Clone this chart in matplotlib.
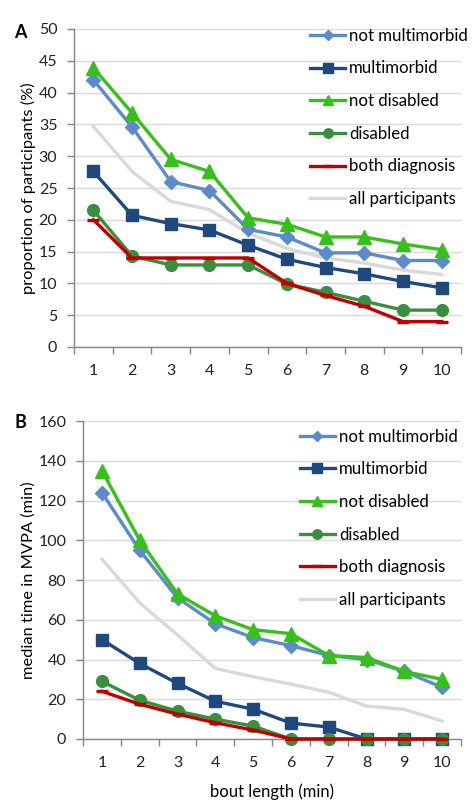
import numpy as np
import matplotlib
matplotlib.use("Agg")
import matplotlib.pyplot as plt

plt.rcParams['font.family'] = ['Lato', 'DejaVu Sans']

bouts = [1, 2, 3, 4, 5, 6, 7, 8, 9, 10]
labels = ["not multimorbid", "multimorbid", "not disabled", "disabled",
          "both diagnosis", "all participants"]

# panel A: proportion of participants (%)
a_not_multi = [42.0, 34.6, 26.0, 24.6, 18.5, 17.3, 14.8, 14.8, 13.6, 13.6]
a_multi = [27.6, 20.7, 19.4, 18.4, 16.0, 13.8, 12.5, 11.5, 10.3, 9.3]
a_not_dis = [43.9, 36.8, 29.5, 27.6, 20.3, 19.3, 17.3, 17.3, 16.2, 15.3]
a_dis = [21.5, 14.3, 12.9, 12.9, 12.9, 9.9, 8.6, 7.2, 5.8, 5.8]
a_both = [20.0, 14.0, 14.0, 14.0, 14.0, 10.0, 8.1, 6.4, 4.0, 4.0]
a_all = [34.7, 27.6, 22.9, 21.6, 17.9, 15.5, 14.0, 13.2, 12.1, 11.4]

# panel B: median time in MVPA (min)
b_not_multi = [124, 95, 71, 58, 51, 47, 42, 40, 34, 26]
b_multi = [50, 38, 28, 19, 15, 8, 6, 0, 0, 0]
b_not_dis = [135, 100, 73, 62, 55, 53, 42, 41, 34, 30]
b_dis = [29, 19.5, 14, 10, 6.5, 0, 0, 0, 0, 0]
b_both = [24, 17.5, 12.5, 8.2, 4.5, 0, 0, 0, 0, 0]
b_all = [90.5, 68.5, 52.3, 35.5, 31.3, 27.6, 23.5, 16.6, 14.9, 9.0]

styles = [
    dict(color='#5b8bc9', marker='D', ms=7, zorder=3),
    dict(color='#1f497d', marker='s', ms=9, zorder=3),
    dict(color='#36c01a', marker='^', ms=9.5, zorder=3),
    dict(color='#3a8f3f', marker='o', ms=8.5, zorder=4),
    dict(color='#c00000', marker='_', ms=9, mew=2.4, zorder=5),
    dict(color='#d9d9d9', marker=None, zorder=2),
]

fig = plt.figure(figsize=(4.74, 8.06), dpi=100)
W, H = 474, 806


def make_axes(left, right, top, bottom):
    return fig.add_axes([left / W, 1 - bottom / H, (right - left) / W, (bottom - top) / H])


def style_axes(ax, ymax, ystep):
    ax.set_xlim(0.5, 10.5)
    ax.set_ylim(0, ymax)
    ax.set_yticks(np.arange(0, ymax + 1, ystep))
    ax.set_xticks(bouts)
    ax.set_xticks(np.arange(0.5, 11, 1), minor=True)
    ax.tick_params(axis='x', which='major', length=0, pad=12, labelsize=11.5, colors='#222222')
    ax.tick_params(axis='x', which='minor', length=5, width=1, color='#868686', direction='out')
    ax.tick_params(axis='y', length=5, width=1, color='#868686', pad=7, labelsize=11.5,
                   labelcolor='#222222')
    ax.grid(axis='y', color='#d9d9d9', lw=1)
    ax.set_axisbelow(True)
    for s in ['top', 'right']:
        ax.spines[s].set_visible(False)
    for s in ['left', 'bottom']:
        ax.spines[s].set_color('#868686')
        ax.spines[s].set_linewidth(1)


def draw(ax, series):
    for vals, lab, st in zip(series, labels, styles):
        ax.plot(bouts, vals, lw=2.4, label=lab, clip_on=False, **st)


def fit_text(txt, target_px, vertical=False):
    # scale a text's font size so its rendered length matches the reference
    r = fig.canvas.get_renderer()
    bb = txt.get_window_extent(r)
    size = bb.height if vertical else bb.width
    txt.set_fontsize(txt.get_fontsize() * target_px / size)


axA = make_axes(74, 461, 29, 347)
draw(axA, [a_not_multi, a_multi, a_not_dis, a_dis, a_both, a_all])
style_axes(axA, 50, 5)
ylA = axA.set_ylabel("proportion of participants (%)", fontsize=10, labelpad=2)
legA = axA.legend(loc='upper left', bbox_to_anchor=(0.61, 1.004), frameon=False, fontsize=12,
                  handlelength=2.1, handletextpad=0.25, labelspacing=1.0, borderpad=0,
                  borderaxespad=0, markerscale=0.8)
fig.text(14 / W, 1 - 33 / H, "A", fontsize=13, fontweight='bold', va='center', ha='left')

axB = make_axes(83, 461, 421, 739)
draw(axB, [b_not_multi, b_multi, b_not_dis, b_dis, b_both, b_all])
style_axes(axB, 160, 20)
ylB = axB.set_ylabel("median time in MVPA (min)", fontsize=10, labelpad=2)
xlB = axB.set_xlabel("bout length (min)", fontsize=10.5, labelpad=10)
legB = axB.legend(loc='upper left', bbox_to_anchor=(0.574, 0.976), frameon=False, fontsize=12,
                  handlelength=2.1, handletextpad=0.25, labelspacing=1.0, borderpad=0,
                  borderaxespad=0, markerscale=0.8)
fig.text(14 / W, 1 - 423 / H, "B", fontsize=13, fontweight='bold', va='center', ha='left')

fig.canvas.draw()
fit_text(ylA, 213, vertical=True)
fit_text(xlB, 125)
fit_text(legA.get_texts()[0], 118)
fsz = legA.get_texts()[0].get_fontsize()
for t in legA.get_texts() + legB.get_texts():
    t.set_fontsize(fsz)
ylB.set_fontsize(ylA.get_fontsize())

fig.savefig("out.png", dpi=100)
